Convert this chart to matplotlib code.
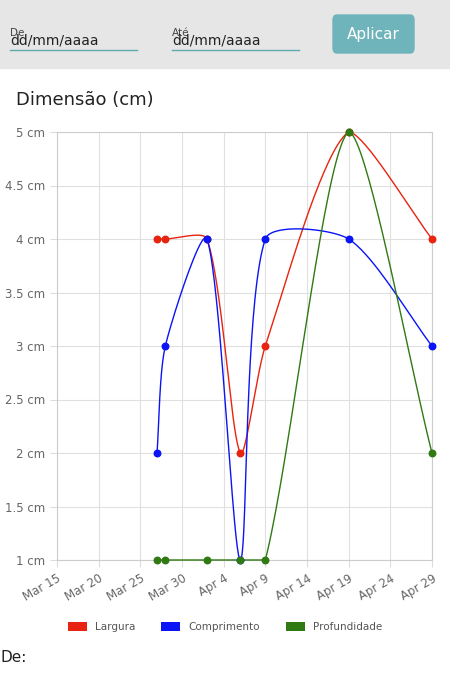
import matplotlib
matplotlib.use("Agg")
import matplotlib.pyplot as plt
import matplotlib.dates as mdates
import numpy as np
from datetime import date
from matplotlib.patches import Rectangle, FancyBboxPatch, Patch

dates = [date(2019,3,27), date(2019,3,28), date(2019,4,2), date(2019,4,6),
         date(2019,4,9), date(2019,4,19), date(2019,4,29)]
largura = [4, 4, 4, 2, 3, 5, 4]
comprimento = [2, 3, 4, 1, 4, 4, 3]
profundidade = [1, 1, 1, 1, 1, 5, 2]
series = [("Largura", largura, "#e8230f"), ("Comprimento", comprimento, "#0a14f5"),
          ("Profundidade", profundidade, "#2f7a12")]
tick_dates = [date(2019,3,15), date(2019,3,20), date(2019,3,25), date(2019,3,30),
              date(2019,4,4), date(2019,4,9), date(2019,4,14), date(2019,4,19),
              date(2019,4,24), date(2019,4,29)]
y_ticks = [1, 1.5, 2, 2.5, 3, 3.5, 4, 4.5, 5]

W, H = 450, 682
fig = plt.figure(figsize=(4.5, 6.82), dpi=100)
fig.patch.set_facecolor("white")
ax = fig.add_axes([57/W, 1-560/H, 375/W, 428/H])
xmin, xmax = mdates.date2num(tick_dates[0]), mdates.date2num(tick_dates[-1])
ymin, ymax = 1, 5
AW, AH = 375, 428

def bezier(xs, ys, t=0.25):
    px = (np.array(xs)-xmin)/(xmax-xmin)*AW
    py = (np.array(ys)-ymin)/(ymax-ymin)*AH
    n = len(px)
    cps = []
    for i in range(n):
        pv = (px[max(i-1,0)], py[max(i-1,0)])
        cu = (px[i], py[i])
        nx = (px[min(i+1,n-1)], py[min(i+1,n-1)])
        d01 = np.hypot(cu[0]-pv[0], cu[1]-pv[1]); d12 = np.hypot(nx[0]-cu[0], nx[1]-cu[1])
        s01 = d01/(d01+d12) if d01+d12 else 0; s12 = d12/(d01+d12) if d01+d12 else 0
        fa, fb = t*s01, t*s12
        c1 = (cu[0]-fa*(nx[0]-pv[0]), np.clip(cu[1]-fa*(nx[1]-pv[1]), 0, AH))
        c2 = (cu[0]+fb*(nx[0]-pv[0]), np.clip(cu[1]+fb*(nx[1]-pv[1]), 0, AH))
        cps.append((c1, c2))
    X, Y = [], []
    s = np.linspace(0, 1, 40)
    for i in range(n-1):
        p0 = np.array([px[i], py[i]]); p3 = np.array([px[i+1], py[i+1]])
        p1 = np.array(cps[i][1]); p2 = np.array(cps[i+1][0])
        pts = ((1-s)**3)[:,None]*p0 + (3*(1-s)**2*s)[:,None]*p1 + (3*(1-s)*s**2)[:,None]*p2 + (s**3)[:,None]*p3
        X += list(pts[:,0]); Y += list(pts[:,1])
    return np.array(X)/AW*(xmax-xmin)+xmin, np.array(Y)/AH*(ymax-ymin)+ymin

xd = mdates.date2num(dates)
for name, vals, c in series:
    bx, by = bezier(xd, vals)
    ax.plot(bx, by, color=c, lw=1.0, clip_on=False, zorder=3)
    ax.scatter(xd, vals, color=c, s=22, clip_on=False, zorder=4)

ax.set_xlim(xmin, xmax); ax.set_ylim(ymin, ymax)
ax.set_xticks(mdates.date2num(tick_dates))
ax.set_xticklabels([d.strftime("%b ") + str(d.day) for d in tick_dates], rotation=30, ha="right",
                   fontsize=8.5, color="#666666", rotation_mode="anchor")
ax.set_yticks(y_ticks)
ax.set_yticklabels([f"{v:g} cm" for v in y_ticks], fontsize=8.5, color="#666666")
ax.grid(True, color="#e0e0e0", lw=0.8)
for s_ in ax.spines.values(): s_.set_color("#cccccc")
ax.tick_params(length=5, color="#dddddd")

fig.text(16/W, 1-100/H, "Dimensão (cm)", fontsize=13, va="center", color="#222222")
leg = [Patch(facecolor=c, label=n) for n, _, c in series]
fig.legend(handles=leg, loc="center", bbox_to_anchor=(0.5, 1-627/H), ncol=3, frameon=False,
           fontsize=7.5, handlelength=1.8, handleheight=0.9, columnspacing=2.5, labelcolor="#555555")
fig.text(0, 1-658/H, "De:", fontsize=11, va="center", color="#222222")

# top bar
fig.patches.append(Rectangle((0, 1-68/H), 1, 68/H, transform=fig.transFigure, color="#e6e6e6", zorder=0))
for x0, lab in [(10, "De"), (172, "Até")]:
    fig.text(x0/W, 1-33/H, lab, fontsize=7.5, color="#444444", va="center")
    fig.text(x0/W, 1-41/H, "dd/mm/aaaa", fontsize=10, color="#222222", va="center")
    fig.lines.append(plt.Line2D([x0/W, (x0+127)/W], [1-50/H]*2, transform=fig.transFigure, color="#5fa8b0", lw=1))
fig.patches.append(FancyBboxPatch((333/W, 1-53/H), 81/W, 38/H, boxstyle="round,pad=0,rounding_size=0.008",
                                  transform=fig.transFigure, color="#6fb3bb"))
fig.text(373/W, 1-34/H, "Aplicar", fontsize=11, color="white", ha="center", va="center")
fig.savefig("out.png", dpi=100)
